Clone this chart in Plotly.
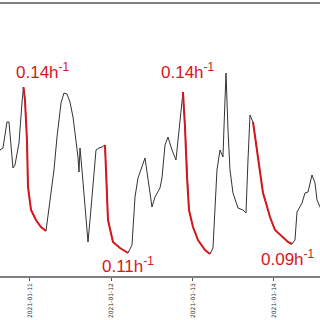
import pandas as pd
import plotly.graph_objects as go

# hours since 2021-01-11 00:00 and signal value (arbitrary units)
hours = [-10.0, -8.85, -7.97, -6.79, -6.2, -5.02, -4.43, -3.25, -2.36, -1.92, -1.48, -0.89, -0.59, 0.30,
         1.77, 3.25, 4.72, 5.90, 7.08, 7.97, 9.15, 10.03, 10.92, 11.80, 12.69, 13.28,
         14.16, 14.46, 14.76, 15.35, 16.23, 17.12, 17.71, 18.59, 19.48, 20.36, 21.25,
         22.13, 22.72, 23.02, 24.49, 26.56, 28.92, 30.10, 30.99, 31.87, 33.94, 34.82,
         36.00, 36.89, 38.36, 38.95, 39.84, 40.72, 41.90, 43.08, 43.67, 44.27, 45.15,
         45.74, 46.33, 46.92, 48.10, 49.58, 51.64, 53.12, 54.00, 54.59, 55.18, 56.07,
         56.95, 57.25, 57.84, 58.43, 59.02, 59.90, 61.38, 62.86, 63.74, 64.33, 64.92,
         65.81, 66.99, 67.87, 68.76, 69.64, 70.82, 72.30, 74.36, 76.14, 77.32, 78.20,
         78.79, 80.27, 81.16, 82.04, 83.22, 84.11, 84.70, 85.58, 86.5]
values = [120, 126, 128, 154, 154, 108, 111, 133, 173, 189, 176, 136, 89, 66,
          56, 49, 45, 73, 106, 139, 173, 183, 182, 174, 159, 143,
          119, 104, 128, 106, 66, 34, 56, 93, 126, 128, 129,
          131, 83, 56, 34, 28, 23, 31, 79, 98, 118, 96,
          69, 79, 88, 98, 131, 139, 126, 116, 136, 156, 184,
          149, 99, 66, 49, 36, 26, 22, 28, 76, 106, 126,
          119, 149, 203, 146, 106, 83, 68, 66, 63, 116, 161,
          154, 126, 106, 83, 73, 59, 46, 39, 34, 32, 36,
          64, 73, 83, 84, 101, 93, 76, 69, 62]

# decay segments highlighted in red (index ranges into the series)
decay_segments = [(9, 16), (37, 42), (58, 65), (81, 90)]
rate_labels = ["0.14h<sup>-1</sup>", "0.11h<sup>-1</sup>", "0.14h<sup>-1</sup>", "0.09h<sup>-1</sup>"]
label_hours = [3.84, 28.9, 46.6, 76.1]
label_values = [205, 11, 205, 18]

tick_days = ["2021-01-11", "2021-01-12", "2021-01-13", "2021-01-14"]

base = pd.Timestamp("2021-01-11")
times = [base + pd.Timedelta(hours=h) for h in hours]

RED = "rgb(214,22,28)"

fig = go.Figure()
fig.add_trace(go.Scatter(x=times, y=values, mode="lines",
                         line=dict(color="#333333", width=1), showlegend=False))
for a, b in decay_segments:
    fig.add_trace(go.Scatter(x=times[a:b + 1], y=values[a:b + 1], mode="lines",
                             line=dict(color=RED, width=2), showlegend=False))

for txt, h, v in zip(rate_labels, label_hours, label_values):
    fig.add_annotation(x=base + pd.Timedelta(hours=h), y=v, text=txt, showarrow=False,
                       font=dict(family="Liberation Sans, Arial", size=17, color=RED),
                       xanchor="center", yanchor="middle")

fig.update_layout(
    width=320, height=320,
    margin=dict(l=0, r=0, t=4, b=44),
    paper_bgcolor="white", plot_bgcolor="white",
    xaxis=dict(
        range=[base + pd.Timedelta(hours=-8.85), base + pd.Timedelta(hours=85.58)],
        tickvals=[pd.Timestamp(d) for d in tick_days],
        ticktext=tick_days,
        tickangle=-90,
        tickfont=dict(family="DejaVu Sans", size=6, color="#333333"),
        ticks="outside", ticklen=3, tickcolor="#555555", tickwidth=1,
        showline=True, mirror=True, linecolor="#808080", linewidth=1.5,
        showgrid=False, zeroline=False,
    ),
    yaxis=dict(range=[0, 272], visible=False, showgrid=False),
)

fig.write_html("out.html")
